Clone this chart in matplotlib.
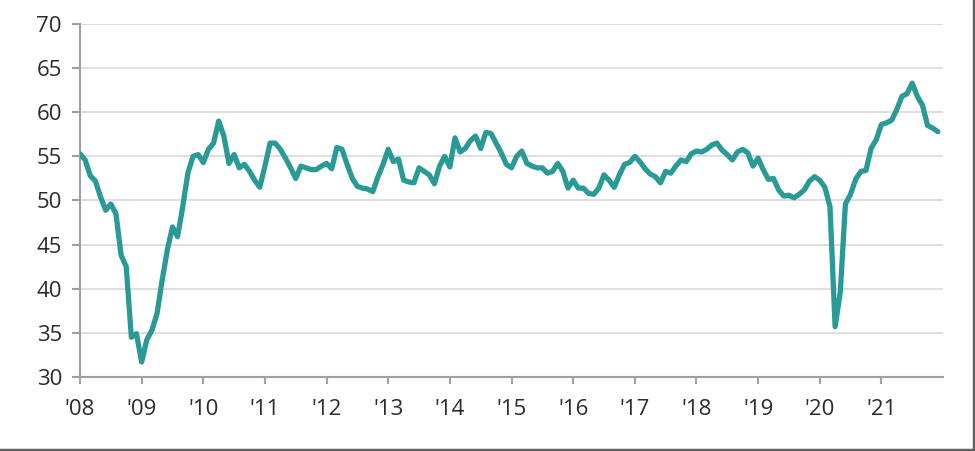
import matplotlib
matplotlib.use("Agg")
import matplotlib.pyplot as plt
import numpy as np
from matplotlib.lines import Line2D

# monthly index values, Jan 2008 .. Dec 2021
v2008 = [55.3, 54.6, 52.8, 52.2, 50.4, 48.9, 49.6, 48.5, 43.8, 42.5, 34.5, 34.9]
v2009 = [31.7, 34.2, 35.3, 37.2, 41.0, 44.4, 47.0, 45.9, 49.3, 53.1, 55.0, 55.2]
v2010 = [54.3, 55.8, 56.5, 59.0, 57.3, 54.2, 55.2, 53.7, 54.1, 53.3, 52.3, 51.5]
v2011 = [53.9, 56.5, 56.5, 55.8, 54.8, 53.7, 52.5, 53.9, 53.7, 53.5, 53.5, 53.9]
v2012 = [54.2, 53.6, 56.0, 55.8, 54.1, 52.5, 51.6, 51.4, 51.3, 51.0, 52.7, 54.1]
v2013 = [55.8, 54.4, 54.7, 52.3, 52.1, 52.0, 53.7, 53.3, 52.9, 51.9, 53.9, 55.0]
v2014 = [53.8, 57.1, 55.5, 55.9, 56.8, 57.3, 55.9, 57.7, 57.6, 56.5, 55.4, 54.1]
v2015 = [53.7, 55.0, 55.6, 54.2, 53.9, 53.7, 53.7, 53.1, 53.3, 54.2, 53.3, 51.4]
v2016 = [52.3, 51.4, 51.4, 50.8, 50.7, 51.4, 52.9, 52.3, 51.5, 52.9, 54.1, 54.3]
v2017 = [55.0, 54.4, 53.6, 53.0, 52.7, 52.0, 53.3, 53.1, 53.9, 54.6, 54.4, 55.3]
v2018 = [55.6, 55.5, 55.8, 56.3, 56.5, 55.7, 55.2, 54.6, 55.5, 55.8, 55.4, 53.9]
v2019 = [54.8, 53.5, 52.4, 52.5, 51.2, 50.5, 50.6, 50.3, 50.7, 51.2, 52.2, 52.7]
v2020 = [52.3, 51.5, 49.3, 35.7, 39.6, 49.6, 50.7, 52.4, 53.3, 53.4, 55.9, 56.9]
v2021 = [58.6, 58.8, 59.1, 60.3, 61.8, 62.1, 63.3, 61.8, 60.8, 58.5, 58.2, 57.8]

values = np.array(v2008 + v2009 + v2010 + v2011 + v2012 + v2013 + v2014 +
                  v2015 + v2016 + v2017 + v2018 + v2019 + v2020 + v2021)
months = np.arange(len(values))

year_labels = ["'08", "'09", "'10", "'11", "'12", "'13", "'14",
               "'15", "'16", "'17", "'18", "'19", "'20", "'21"]
year_pos = np.arange(len(year_labels)) * 12

plt.rcParams['font.family'] = ['Open Sans', 'DejaVu Sans']

fig = plt.figure(figsize=(9.75, 4.51), dpi=100)
ax = fig.add_axes([80 / 975, 1 - 377 / 451, (943 - 80) / 975, 353 / 451])

ax.plot(months, values, color='#2a9a97', linewidth=3.8,
        solid_joinstyle='round', solid_capstyle='round', zorder=3)

ax.set_xlim(0, 168)
ax.set_ylim(30, 70)
ax.set_yticks(np.arange(30, 71, 5))
ax.set_xticks(year_pos)
ax.set_xticklabels(year_labels)

ax.grid(axis='y', color='#d9d9d9', linewidth=1.2)
ax.set_axisbelow(True)

for s in ['top', 'right']:
    ax.spines[s].set_visible(False)
for s in ['left', 'bottom']:
    ax.spines[s].set_color('#a0a0a0')
    ax.spines[s].set_linewidth(1.5)

ax.tick_params(axis='y', length=6, width=1.5, color='#a0a0a0',
               labelsize=16, labelcolor='#2b2b2b', pad=7)
ax.tick_params(axis='x', length=5, width=1.5, color='#a0a0a0',
               labelsize=16, labelcolor='#2b2b2b', pad=11)

# frame of the screenshot on right and bottom
fig.add_artist(Line2D([0.9985, 0.9985], [0, 1], color='#606060', linewidth=2.5,
                      transform=fig.transFigure))
fig.add_artist(Line2D([0, 1], [0.003, 0.003], color='#606060', linewidth=2.5,
                      transform=fig.transFigure))

fig.savefig('out.png', dpi=100, facecolor='white')
